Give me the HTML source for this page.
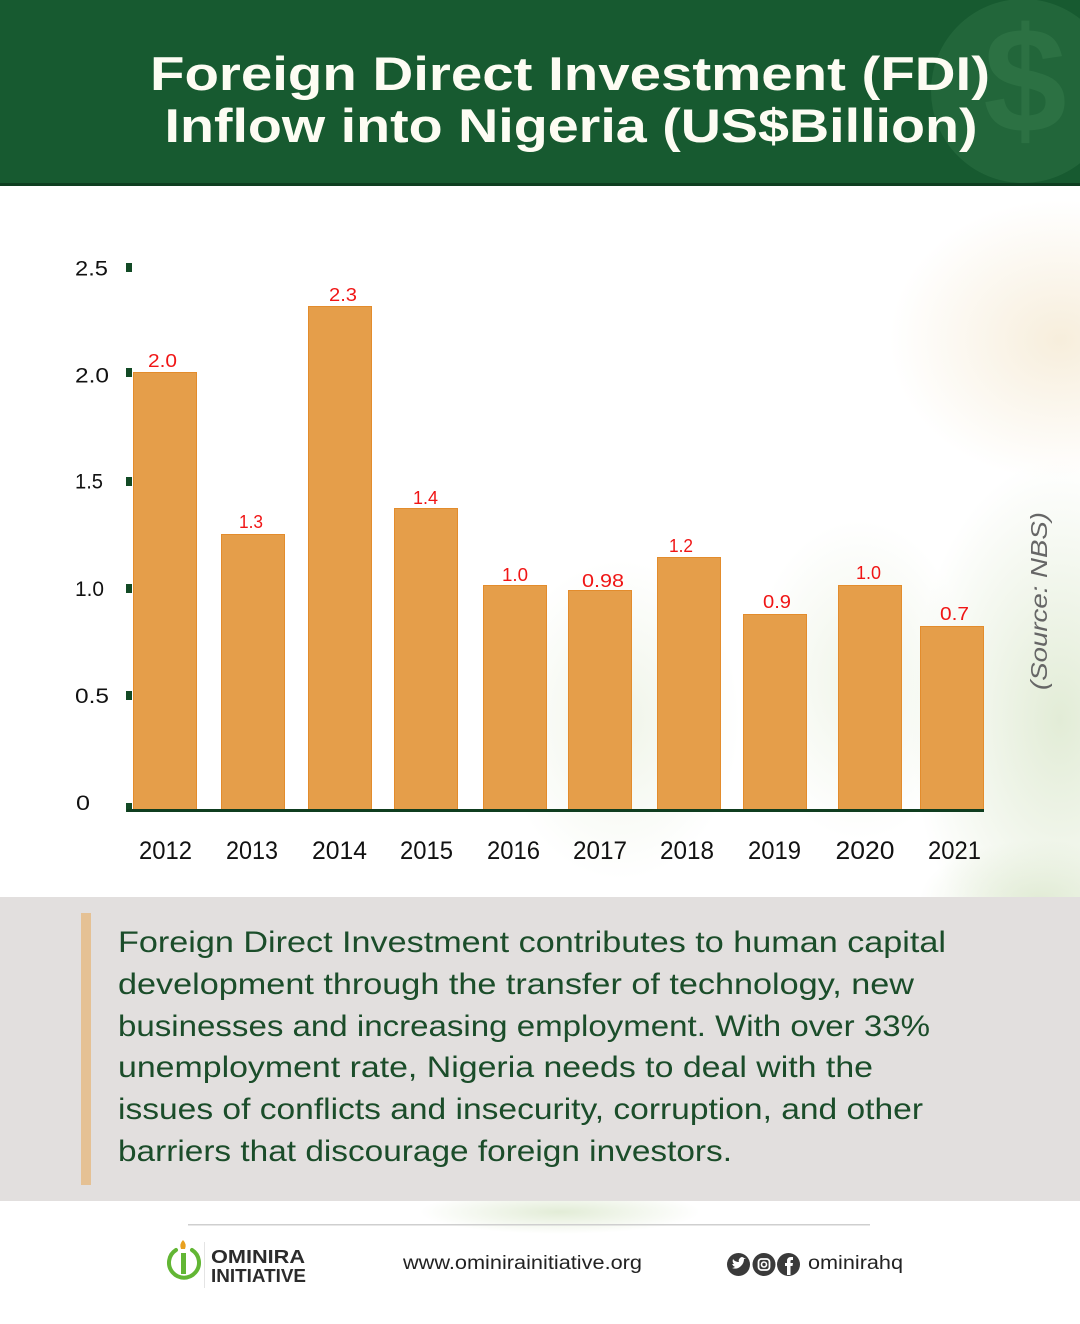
<!DOCTYPE html>
<html><head><meta charset="utf-8"><style>
html,body{margin:0;padding:0;background:#fff;}
svg{display:block;}
</style></head><body>
<svg width="1080" height="1324" viewBox="0 0 1080 1324" xmlns="http://www.w3.org/2000/svg" font-family="'Liberation Sans', sans-serif">
<defs>
<radialGradient id="g1" cx="0.5" cy="0.5" r="0.5"><stop offset="0" stop-color="#f6ecd8" stop-opacity="0.9"/><stop offset="1" stop-color="#f6ecd8" stop-opacity="0"/></radialGradient>
<radialGradient id="g2" cx="0.5" cy="0.5" r="0.5"><stop offset="0" stop-color="#dfead2" stop-opacity="0.9"/><stop offset="1" stop-color="#dfead2" stop-opacity="0"/></radialGradient>
<radialGradient id="g3" cx="0.5" cy="0.5" r="0.5"><stop offset="0" stop-color="#e9f0df" stop-opacity="0.7"/><stop offset="1" stop-color="#e9f0df" stop-opacity="0"/></radialGradient>
</defs>
<rect x="0" y="0" width="1080" height="1324" fill="#ffffff"/>
<!-- background blobs -->
<ellipse cx="1060" cy="340" rx="170" ry="140" fill="url(#g1)"/>
<ellipse cx="1060" cy="720" rx="150" ry="260" fill="url(#g2)"/>
<ellipse cx="620" cy="720" rx="120" ry="160" fill="url(#g3)"/>
<ellipse cx="860" cy="680" rx="110" ry="160" fill="url(#g3)"/>
<ellipse cx="560" cy="1212" rx="140" ry="22" fill="url(#g2)"/>
<ellipse cx="1040" cy="900" rx="120" ry="60" fill="url(#g2)"/>

<!-- header -->
<rect x="0" y="0" width="1080" height="184" fill="#175a30"/>
<rect x="0" y="183" width="1080" height="3" fill="#0e3e20"/>
<circle cx="1023" cy="91" r="92" fill="#22663a"/>
<text x="1025" y="132" font-size="150" font-weight="bold" text-anchor="middle" fill="#2c7143">$</text>
<text x="570" y="90" font-size="47" font-weight="bold" fill="#fdfcf3" text-anchor="middle" textLength="840" lengthAdjust="spacingAndGlyphs">Foreign Direct Investment (FDI)</text>
<text x="571" y="142" font-size="47" font-weight="bold" fill="#fdfcf3" text-anchor="middle" textLength="813" lengthAdjust="spacingAndGlyphs">Inflow into Nigeria (US$Billion)</text>

<!-- y axis labels and ticks -->
<g fill="#111" font-size="21">
<text x="75" y="275.5" textLength="33" lengthAdjust="spacingAndGlyphs">2.5</text>
<text x="75" y="382.5" textLength="34" lengthAdjust="spacingAndGlyphs">2.0</text>
<text x="75" y="488.5" textLength="28" lengthAdjust="spacingAndGlyphs">1.5</text>
<text x="75" y="596" textLength="29" lengthAdjust="spacingAndGlyphs">1.0</text>
<text x="75" y="703" textLength="34" lengthAdjust="spacingAndGlyphs">0.5</text>
<text x="76" y="810" textLength="14" lengthAdjust="spacingAndGlyphs">0</text>
</g>
<g fill="#124a25">
<rect x="126" y="263" width="6" height="9"/>
<rect x="126" y="368" width="6" height="9"/>
<rect x="126" y="477" width="6" height="9"/>
<rect x="126" y="584" width="6" height="9"/>
<rect x="126" y="691" width="6" height="9"/>
<rect x="126" y="803" width="6" height="9"/>
</g>

<!-- bars -->
<g fill="#e59e4a" stroke="#e38c2c" stroke-width="1">
<rect x="133.5" y="372.5" width="63" height="437.5"/>
<rect x="221.5" y="534.5" width="63" height="275.5"/>
<rect x="308.5" y="306.5" width="63" height="503.5"/>
<rect x="394.5" y="508.5" width="63" height="301.5"/>
<rect x="483.5" y="585.5" width="63" height="224.5"/>
<rect x="568.5" y="590.5" width="63" height="219.5"/>
<rect x="657.5" y="557.5" width="63" height="252.5"/>
<rect x="743.5" y="614.5" width="63" height="195.5"/>
<rect x="838.5" y="585.5" width="63" height="224.5"/>
<rect x="920.5" y="626.5" width="63" height="183.5"/>
</g>
<rect x="127" y="809" width="857" height="3" fill="#0f3d1f"/>

<!-- bar value labels -->
<g fill="#f01515" font-size="18" text-anchor="middle">
<text x="162.5" y="367" textLength="29" lengthAdjust="spacingAndGlyphs">2.0</text>
<text x="251" y="528" textLength="24" lengthAdjust="spacingAndGlyphs">1.3</text>
<text x="343" y="301" textLength="28" lengthAdjust="spacingAndGlyphs">2.3</text>
<text x="425.5" y="504" textLength="25" lengthAdjust="spacingAndGlyphs">1.4</text>
<text x="515" y="581" textLength="26" lengthAdjust="spacingAndGlyphs">1.0</text>
<text x="603" y="587" textLength="42" lengthAdjust="spacingAndGlyphs">0.98</text>
<text x="681" y="552" textLength="24" lengthAdjust="spacingAndGlyphs">1.2</text>
<text x="777" y="608" textLength="28" lengthAdjust="spacingAndGlyphs">0.9</text>
<text x="868.5" y="579" textLength="25" lengthAdjust="spacingAndGlyphs">1.0</text>
<text x="954.5" y="620" textLength="29" lengthAdjust="spacingAndGlyphs">0.7</text>
</g>

<!-- year labels -->
<g fill="#111" font-size="25" text-anchor="middle">
<text x="165.5" y="859" textLength="53" lengthAdjust="spacingAndGlyphs">2012</text>
<text x="252" y="859" textLength="52" lengthAdjust="spacingAndGlyphs">2013</text>
<text x="339.5" y="859" textLength="55" lengthAdjust="spacingAndGlyphs">2014</text>
<text x="426.5" y="859" textLength="53" lengthAdjust="spacingAndGlyphs">2015</text>
<text x="513.5" y="859" textLength="53" lengthAdjust="spacingAndGlyphs">2016</text>
<text x="600" y="859" textLength="54" lengthAdjust="spacingAndGlyphs">2017</text>
<text x="687" y="859" textLength="54" lengthAdjust="spacingAndGlyphs">2018</text>
<text x="774.5" y="859" textLength="53" lengthAdjust="spacingAndGlyphs">2019</text>
<text x="865" y="859" textLength="59" lengthAdjust="spacingAndGlyphs">2020</text>
<text x="954.5" y="859" textLength="53" lengthAdjust="spacingAndGlyphs">2021</text>
</g>

<!-- source -->
<text transform="translate(1047,601) rotate(-90)" font-size="23" font-style="italic" fill="#666" text-anchor="middle" textLength="178" lengthAdjust="spacingAndGlyphs">(Source: NBS)</text>

<!-- grey box -->
<rect x="0" y="897" width="1080" height="304" fill="#e2dfde"/>
<rect x="81" y="913" width="10" height="272" fill="#e5c194"/>
<g fill="#1b4d2a" font-size="30">
<text x="118" y="952" textLength="828" lengthAdjust="spacingAndGlyphs">Foreign Direct Investment contributes to human capital</text>
<text x="118" y="994" textLength="796" lengthAdjust="spacingAndGlyphs">development through the transfer of technology, new</text>
<text x="118" y="1036" textLength="812" lengthAdjust="spacingAndGlyphs">businesses and increasing employment. With over 33%</text>
<text x="118" y="1077" textLength="755" lengthAdjust="spacingAndGlyphs">unemployment rate, Nigeria needs to deal with the</text>
<text x="118" y="1119" textLength="805" lengthAdjust="spacingAndGlyphs">issues of conflicts and insecurity, corruption, and other</text>
<text x="118" y="1161" textLength="614" lengthAdjust="spacingAndGlyphs">barriers that discourage foreign investors.</text>
</g>

<!-- footer -->
<rect x="188" y="1224" width="682" height="1.5" fill="#cfcfcf"/>
<!-- logo -->
<path d="M 176 1250 A 15 15 0 1 0 192 1250" fill="none" stroke="#62b634" stroke-width="4" stroke-linecap="round"/>
<rect x="181" y="1253" width="5" height="21" fill="#62b634"/>
<path d="M183 1240 q-4 4 -2 9 l4 0 q2 -5 -2 -9 z" fill="#e8a020"/>
<rect x="204" y="1242" width="1" height="46" fill="#e4e4e4"/>
<g fill="#2b2b2b" font-size="18" font-weight="bold">
<text x="211" y="1263" textLength="94" lengthAdjust="spacingAndGlyphs">OMINIRA</text>
<text x="211" y="1282" textLength="95" lengthAdjust="spacingAndGlyphs">INITIATIVE</text>
</g>
<text x="403" y="1269" font-size="19" fill="#222" textLength="239" lengthAdjust="spacingAndGlyphs">www.ominirainitiative.org</text>
<g fill="#3a3a3a">
<circle cx="738.5" cy="1264.5" r="11.5"/>
<circle cx="764" cy="1264.5" r="11.5"/>
<circle cx="788.5" cy="1264.5" r="11.5"/>
</g>
<path d="M732 1268 q5 2 9 -2 q3 -3 3 -7 l2 -1 l-2 0 q-2 -2 -4 0 q-2 2 -1 4 q-4 0 -6 -3 q-1 3 1 5 l-2 0 q1 2 3 3 q-2 1 -3 1 z" fill="#ffffff"/>
<rect x="758.5" y="1259" width="11" height="11" rx="3" fill="none" stroke="#fff" stroke-width="1.8"/>
<circle cx="764" cy="1264.5" r="2.5" fill="none" stroke="#fff" stroke-width="1.6"/>
<path d="M787 1275 l0 -9 l-2 0 l0 -3 l2 0 l0 -2 q0 -4 4 -4 l2 0 l0 3 l-1.5 0 q-1 0 -1 1 l0 2 l2.5 0 l-0.5 3 l-2 0 l0 9 z" fill="#fff"/>
<text x="808" y="1269" font-size="19" fill="#222" textLength="95" lengthAdjust="spacingAndGlyphs">ominirahq</text>
</svg>
</body></html>
